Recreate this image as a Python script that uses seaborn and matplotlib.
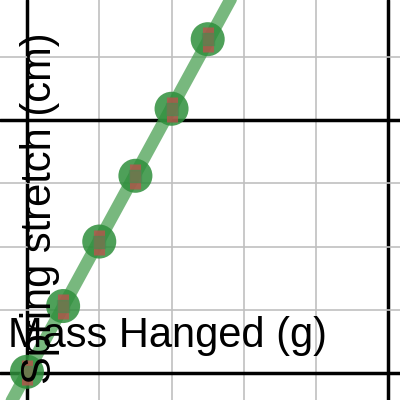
import numpy as np
import matplotlib
matplotlib.use("Agg")
import matplotlib.pyplot as plt
import seaborn as sns

mass = [0, 5, 10, 15, 20, 25]
stretch = [0.1, 5.3, 10.4, 15.6, 20.9, 26.4]

sns.set_style("white")
plt.rcParams["font.family"] = ["Liberation Sans", "DejaVu Sans"]
fig = plt.figure(figsize=(4, 4), dpi=100)
ax = fig.add_axes([0, 0, 1, 1])
ax.set_xlim(-3.73, 51.6)
ax.set_ylim(-2.13, 29.5)

for gx in np.arange(0, 51, 10):
    ax.axvline(gx, color="black" if gx % 50 == 0 else "#c0c0c0", lw=2.5 if gx % 50 == 0 else 1.2, zorder=0)
for gy in np.arange(-5, 31, 5):
    ax.axhline(gy, color="black" if gy % 20 == 0 else "#c0c0c0", lw=2.5 if gy % 20 == 0 else 1.2, zorder=0)

b, m = np.polyfit(mass, stretch, 1)
xs = np.array([-5, 55])
sns.lineplot(x=xs, y=b * xs + m, color="#3f9a48", alpha=0.7, lw=9, ax=ax, zorder=2)
sns.scatterplot(x=mass, y=stretch, s=600, color="#2f8f3c", alpha=0.85, edgecolor="none", ax=ax, zorder=3)
ax.plot(mass, stretch, ls="none", marker="|", markersize=18, markeredgewidth=8,
        color="#c0504d", alpha=0.75, zorder=4)
ax.plot(mass, stretch, ls="none", marker="s", markersize=8, color="#4a8a50", alpha=0.6, zorder=5)

ax.text(19.5, 2.9, "Mass Hanged (g)", fontsize=30, color="black", ha="center", va="center", zorder=6)
ax.text(1.8, 13.0, "Spring stretch (cm)", fontsize=30, color="black", rotation=90,
        ha="center", va="center", zorder=6)

ax.set_xticks([])
ax.set_yticks([])
for s in ax.spines.values():
    s.set_visible(False)
fig.savefig("out.png", dpi=100)
